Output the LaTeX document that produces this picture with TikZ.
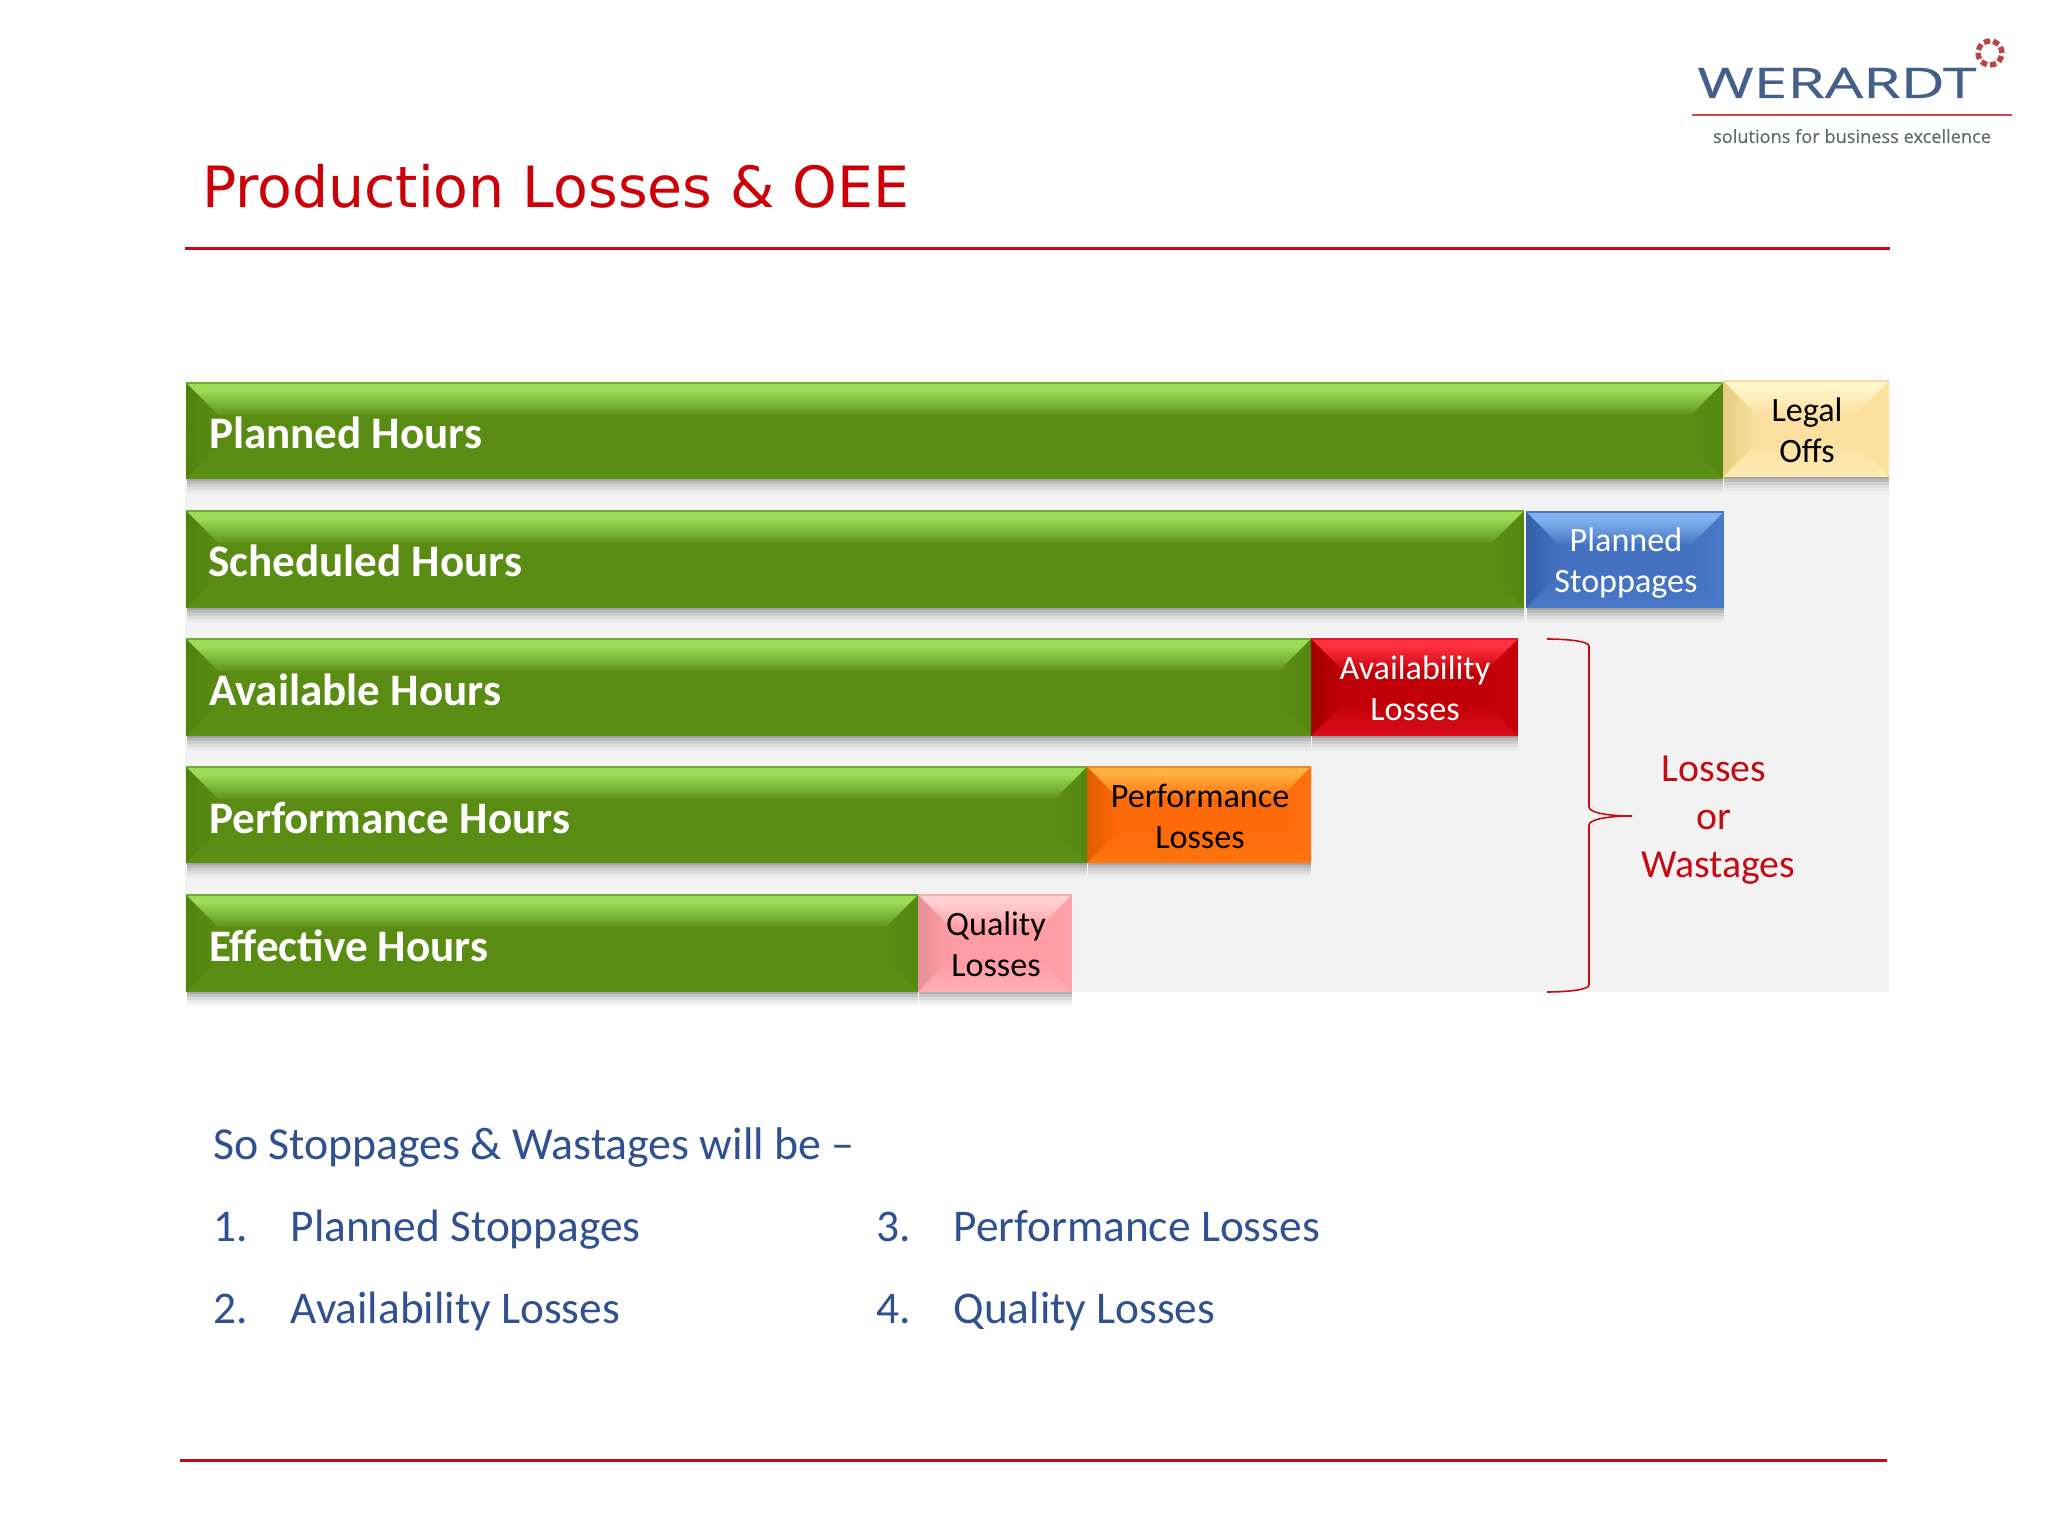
\documentclass[tikz,border=0pt]{standalone}
\usepackage{fontspec}
\setmainfont{Carlito}
\newfontfamily\titlefont{DejaVu Sans}
\newfontfamily\logofont[FakeBold=0.5]{Open Sans}
\newfontfamily\logotagfont[FakeBold=0.2]{Open Sans}
\usetikzlibrary{calc}
\definecolor{slidered}{HTML}{C40A12}
\definecolor{titlered}{HTML}{CC0008}
\definecolor{listblue}{HTML}{2F5191}
\definecolor{logoblue}{HTML}{44608A}
\definecolor{logogray}{HTML}{5F6770}
\definecolor{logored}{HTML}{CF4A4A}
\definecolor{panelgray}{HTML}{F2F2F3}
\definecolor{gbase}{HTML}{5A8C14}\definecolor{gtop}{HTML}{9BDC58}\definecolor{gleft}{HTML}{50820F}\definecolor{gright}{HTML}{558810}\definecolor{gbot}{HTML}{5B8F15}\definecolor{gedge}{HTML}{6FAE30}
\definecolor{ybase}{HTML}{FBE0A0}\definecolor{ytop}{HTML}{FFF6CC}\definecolor{yleft}{HTML}{E6CC80}\definecolor{yright}{HTML}{FBE29C}\definecolor{ybot}{HTML}{FFEDB4}\definecolor{yedge}{HTML}{F0E0A8}
\definecolor{bbase}{HTML}{4472C0}\definecolor{btop}{HTML}{80B2F2}\definecolor{bleft}{HTML}{3560A8}\definecolor{bright}{HTML}{4A7ACA}\definecolor{bbot}{HTML}{4878C8}\definecolor{bedge}{HTML}{4A78C0}
\definecolor{rbase}{HTML}{C00008}\definecolor{rtop}{HTML}{FF3040}\definecolor{rleft}{HTML}{A00000}\definecolor{rright}{HTML}{C8000A}\definecolor{rbot}{HTML}{DC0C1C}\definecolor{redge}{HTML}{E01828}
\definecolor{obase}{HTML}{FF6A08}\definecolor{otop}{HTML}{FFB040}\definecolor{oleft}{HTML}{E05E00}\definecolor{oright}{HTML}{FF7010}\definecolor{obot}{HTML}{FF7610}\definecolor{oedge}{HTML}{F08A20}
\definecolor{pbase}{HTML}{FF9CA4}\definecolor{ptop}{HTML}{FFD0D4}\definecolor{pleft}{HTML}{E89098}\definecolor{pright}{HTML}{FFA0A8}\definecolor{pbot}{HTML}{FFAEB6}\definecolor{pedge}{HTML}{F0B0B4}
\tikzset{
  x=0.3515625pt, y=-0.3515625pt,
  rule/.style={draw=slidered, line width=1.05pt},
  barlabel/.style={anchor=base west, text=white, font=\bfseries\fontsize{15.85}{19}\selectfont, inner sep=0pt},
  losslabel/.style={anchor=base, align=center, font=\fontsize{12}{14.5}\selectfont, inner sep=0pt},
  listtext/.style={anchor=base west, text=listblue, font=\fontsize{15.95}{19}\selectfont, inner sep=0pt},
  sidetext/.style={anchor=base, align=center, text=slidered, font=\fontsize{14}{16.8}\selectfont, inner sep=0pt},
}
% #1 x1, #2 y1, #3 x2, #4 y2, #5 colour prefix
\newcommand{\bevelbar}[5]{%
  \foreach \s/\o in {14/0.03,11/0.05,8/0.07,5/0.09,2/0.12}
    \fill[black,opacity=\o] (#1+1,#4-6) rectangle (#3,#4+\s);
  \fill[#5base] (#1,#2) rectangle (#3,#4);
  \begin{scope}
    \clip (#1,#2) -- (#3,#2) -- (#3-32,#2+32) -- (#1+32,#2+32) -- cycle;
    \shade[top color=#5top, bottom color=#5base] (#1,#2+7) rectangle (#3,#2+34);
    \fill[#5top] (#1,#2) rectangle (#3,#2+8);
  \end{scope}
  \begin{scope}
    \clip (#1,#2) -- (#1+32,#2+32) -- (#1+32,#4-32) -- (#1,#4) -- cycle;
    \shade[left color=#5left, right color=#5base] (#1,#2) rectangle (#1+32,#4);
  \end{scope}
  \begin{scope}
    \clip (#3,#2) -- (#3-32,#2+32) -- (#3-32,#4-32) -- (#3,#4) -- cycle;
    \shade[left color=#5base, right color=#5right] (#3-32,#2) rectangle (#3,#4);
  \end{scope}
  \begin{scope}
    \clip (#1,#4) -- (#3,#4) -- (#3-32,#4-32) -- (#1+32,#4-32) -- cycle;
    \shade[top color=#5base, bottom color=#5bot] (#1,#4-32) rectangle (#3,#4);
  \end{scope}
  \draw[#5edge, line width=0.4pt] (#1,#2) -- (#3,#2);
  \draw[#5left, line width=0.3pt] (#1,#2) -- (#1,#4);
}
\begin{document}
\begin{tikzpicture}
\useasboundingbox (0,0) rectangle (2048,1536);
\fill[white] (0,0) rectangle (2048,1536);
% panel
\fill[panelgray] (185,490) rectangle (1889,992);
\shade[top color=white, bottom color=panelgray] (185,370) rectangle (1889,490);
% logo
\node[inner sep=0pt, anchor=base, text=logoblue] (logoname) at (1837,98) {\scalebox{1.44}[1]{\logofont\fontsize{14.8}{18}\selectfont WERARDT}};
\coordinate (logoa) at (1692,115);
\coordinate (logob) at (2012,115);
\draw[logored, line width=0.8pt] (logoa) -- (logob);
\node[inner sep=0pt, anchor=base, text=logogray] (logotag) at (1852,143) {\logotagfont\fontsize{6.4}{8}\selectfont solutions for business excellence};
\foreach \a in {0,45,...,315}
  \draw[logored!90!black, line width=1.9pt] ($(1990,53)+(\a:12)$) arc[start angle=\a, delta angle=-30, radius=12];
% title and rules
\node[anchor=base west, inner sep=0pt, text=titlered] (title) at (201.5,207.5) {\titlefont\fontsize{20}{24}\selectfont Production Losses \& OEE};
\coordinate (ruleTopL) at (184.5,248.4); \coordinate (ruleTopR) at (1890,248.4);
\coordinate (ruleBotL) at (180,1460); \coordinate (ruleBotR) at (1887,1460);
\draw[rule] (ruleTopL) -- (ruleTopR);
\draw[rule] (ruleBotL) -- (ruleBotR);
% bars
\bevelbar{186}{383}{1723}{479}{g}
\bevelbar{1723}{381}{1889}{477}{y}
\bevelbar{186}{511}{1524}{608}{g}
\bevelbar{1526}{512}{1724}{608}{b}
\bevelbar{186}{639}{1311}{736}{g}
\bevelbar{1311}{639}{1518}{736}{r}
\bevelbar{186}{767}{1087}{863}{g}
\bevelbar{1087}{767}{1311}{863}{o}
\bevelbar{186}{895}{918}{992}{g}
\bevelbar{918}{895}{1072}{992}{p}
% bar labels
\node[barlabel] (planned) at (208.5,449) {Planned Hours};
\node[barlabel] (scheduled) at (207.5,577) {Scheduled Hours};
\node[barlabel] (available) at (208.5,705) {Available Hours};
\node[barlabel] (performance) at (208.5,833) {Performance Hours};
\node[barlabel] (effective) at (208.5,961) {Effective Hours};
\node[losslabel, text=black] (legal) at (1807,463) {Legal\\Offs};
\node[losslabel, text=white] (stoppages) at (1626,593) {Planned\\Stoppages};
\node[losslabel, text=white] (availability) at (1415,720.5) {Availability\\Losses};
\node[losslabel, text=black] (perfloss) at (1200,848.5) {Performance\\Losses};
\node[losslabel, text=black] (quality) at (996,976.5) {Quality\\Losses};
% brace
\coordinate (braceTop) at (1547,639);
\coordinate (braceTip) at (1632,816);
\coordinate (braceBot) at (1547,992);
\draw[slidered, line width=0.55pt]
  (braceTop) .. controls (1565,639) and (1589,641) .. (1589,646)
  -- (1589,807) .. controls (1589,812) and (1605,816) .. (braceTip)
  .. controls (1605,816) and (1589,820) .. (1589,825)
  -- (1589,985) .. controls (1589,990) and (1565,992) .. (braceBot);
\node[sidetext] (wastage) at (1714,877) {Losses\\or\\\hspace{2.8pt}Wastages};
% list
\node[listtext, font=\fontsize{16.1}{19}\selectfont] (intro) at (212.5,1159.5) {So Stoppages \& Wastages will be –};
\node[listtext] (n1) at (212.5,1241.5) {1.};
\node[listtext] (t1) at (290,1241.5) {Planned Stoppages};
\node[listtext] (n2) at (212.5,1323.5) {2.};
\node[listtext] (t2) at (290,1323.5) {Availability Losses};
\node[listtext] (n3) at (876,1241.5) {3.};
\node[listtext] (t3) at (953,1241.5) {Performance Losses};
\node[listtext] (n4) at (876,1323.5) {4.};
\node[listtext] (t4) at (953,1323.5) {Quality Losses};
\end{tikzpicture}
\end{document}
